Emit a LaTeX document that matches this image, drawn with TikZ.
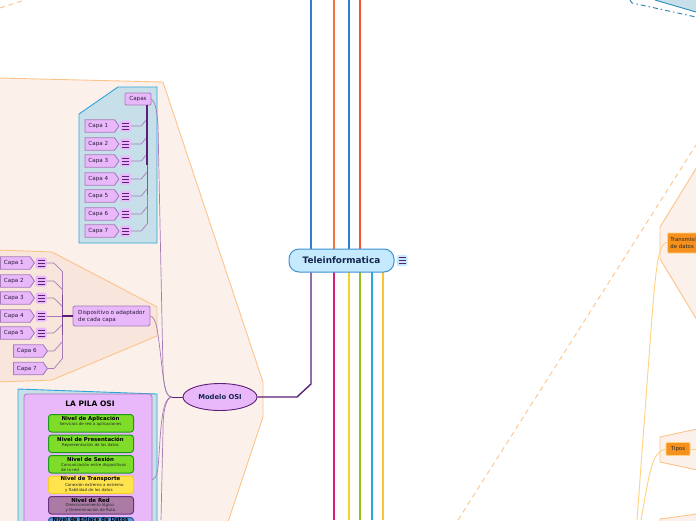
\documentclass[tikz,border=0pt]{standalone}
\usepackage{fontspec}
\setmainfont{DejaVu Sans}
\usetikzlibrary{shapes.symbols,shapes.geometric,calc}
\definecolor{regfill}{HTML}{FCF0EB}
\definecolor{regline}{HTML}{FDC48A}
\definecolor{reginner}{HTML}{F8E5DC}
\definecolor{bluefill}{HTML}{C7DFE9}
\definecolor{blueline}{HTML}{2EA6D8}
\definecolor{purpfill}{HTML}{E9B8FA}
\definecolor{purpline}{HTML}{A57CB8}
\definecolor{purpdark}{HTML}{5C1F78}
\definecolor{textdark}{HTML}{2A1A3A}
\definecolor{orangefill}{HTML}{F7911E}
\definecolor{orangeline}{HTML}{FFD27F}
\definecolor{levgreen}{HTML}{7FDD2A}
\definecolor{levgreenl}{HTML}{1A9A1A}
\definecolor{levyellow}{HTML}{FFE44D}
\definecolor{levyellowl}{HTML}{F5D020}
\definecolor{levpurple}{HTML}{AB7BA6}
\definecolor{levpurplel}{HTML}{6A2F7E}
\definecolor{levblue}{HTML}{5B93D6}
\definecolor{levbluel}{HTML}{2A5A9A}
\definecolor{centralfill}{HTML}{C5E9FD}
\definecolor{centralline}{HTML}{3D92D4}
\definecolor{centraltext}{HTML}{14264F}
\tikzset{
  x=1pt,y=-1pt,
  region/.style={draw=regline,fill=regfill,line width=0.9pt},
  capasig/.style={signal,signal to=east,signal pointer angle=110,draw=purpline,fill=purpfill,line width=0.9pt,
    minimum width=34pt,minimum height=12.5pt,inner sep=0pt,font=\fontsize{5.6}{6}\selectfont,text=textdark,anchor=west},
  menubox/.style={fill=purpfill,rounded corners=1.5pt,minimum width=11pt,minimum height=11pt,inner sep=0pt,
    path picture={\draw[purpdark,line width=0.7pt]
      ($(path picture bounding box.center)+(-3.5pt,-3pt)$) -- ++(7pt,0)
      ($(path picture bounding box.center)+(-3.5pt,0pt)$) -- ++(7pt,0)
      ($(path picture bounding box.center)+(-3.5pt,3pt)$) -- ++(7pt,0);}},
  thinlink/.style={draw=purpline,line width=0.7pt},
  mainlink/.style={line width=1.4pt},
  sublevel/.style={rounded corners=3pt,line width=1pt,minimum width=85pt,minimum height=17.5pt,inner sep=0pt,anchor=north west},
  levtitle/.style={font=\bfseries\fontsize{5.4}{6}\selectfont,inner sep=0pt,text=black},
  levtext/.style={font=\fontsize{4}{4.6}\selectfont,inner sep=0pt,text=black!85,align=left},
}
\begin{document}
\begin{tikzpicture}
\useasboundingbox (0,0) rectangle (696,520);
\fill[white] (0,0) rectangle (696,520);
\begin{scope}
\clip (0,0) rectangle (696,520);
% dashed outer outlines
\draw[regline,line width=0.9pt,dash pattern=on 5pt off 4pt] (0,8) -- (25,0);
\draw[regline,line width=0.9pt,dash pattern=on 5pt off 4pt] (458,520) -- (696,145);
\fill[bluefill] (655,0) -- (696,12) -- (696,0) -- cycle;
\draw[blueline!85!black,line width=0.9pt] (655,0) -- (696,12);
\draw[blueline!80!black,line width=0.9pt,dash pattern=on 5pt off 3pt on 1.5pt off 3pt] (630,0) -- (632,3) -- (696,17);
% regions
\draw[region] (-2,78) -- (163,82) -- (263,382) -- (263,417) -- (228,522) -- (-2,522) -- cycle;
\draw[region,fill=reginner] (-2,250) -- (52,252) -- (157,307) -- (157,336) -- (52,380) -- (-2,382) -- cycle;
\draw[region] (697,167) -- (660,227) -- (660,259) -- (697,320) -- cycle;
\draw[region] (697,429) -- (660,437) -- (660,462) -- (697,470) -- cycle;
\draw[region] (697,514) -- (660,519) -- (660,525) -- (697,525) -- cycle;
% central branches
\foreach \px/\col in {311/2C7FD5,334/F0763C,349/2C7FD5,360/F0552A}{
  \definecolor{tmpc}{HTML}{\col}
  \draw[tmpc,line width=1.4pt] (\px,0) -- (\px,250);}
\foreach \px/\col in {334/D81F7A,349/ECD52A,360/8FC41C,372/2AA7DC,383/FCC232}{
  \definecolor{tmpc}{HTML}{\col}
  \draw[tmpc,line width=1.4pt] (\px,271) -- (\px,520);}
% blue Capas panel
\draw[blueline,fill=bluefill,line width=0.9pt] (79,114) -- (118,87) -- (157,87) -- (157,243) -- (79,243) -- cycle;
% OSI panel
\draw[blueline,fill=bluefill,line width=0.9pt] (18,389) -- (157,394) -- (157,525) -- (18,525) -- cycle;
\draw[purpline,fill=purpfill,line width=0.8pt,rounded corners=3pt] (24,394) -- (152,394) -- (152,525) -- (24,525) -- cycle;
% orange connectors
\draw[orangeline,line width=0.9pt] (667,242) .. controls (658,245) and (656,265) .. (651,330) -- (637,520);
\draw[orangeline,line width=0.9pt] (666,449) .. controls (652,451) and (650,470) .. (641,520);
\draw[orangeline,line width=0.9pt] (690,449) -- (697,449);
% Capas group
\node[draw=purpline,fill=purpfill,line width=0.9pt,rounded corners=1pt,minimum width=26pt,minimum height=12pt,inner sep=0pt,
  font=\fontsize{5.6}{6}\selectfont,text=textdark] (capas) at (138,99) {Capas};
\foreach \i/\py in {1/126,2/144,3/161,4/179,5/196,6/214,7/231}{
  \node[capasig] (a\i) at (84.5,\py) {\hspace{-3pt}Capa \i};
  \node[menubox] (am\i) at (125.5,\py) {};
  \coordinate (aj\i) at (147,{\py-7});
  \draw[thinlink] (am\i.east) -- ++(10,0) -- (aj\i);
}
\draw[purpdark,line width=1.3pt] (147,105) -- (147,165);
\draw[purpdark!75!white,line width=1pt] (147,165) -- (147,195);
\draw[thinlink] (147,195) -- (147,224);
% Dispositivo group
\node[draw=purpline,fill=purpfill,rounded corners=1.5pt,line width=0.9pt,minimum width=77pt,minimum height=20pt,inner sep=0pt,
  font=\fontsize{5.6}{7}\selectfont,text=textdark,align=left] (disp) at (111.5,316) {Dispositivo o adaptador\\de cada capa};
\foreach \i/\py in {1/263,2/281,3/298,5/333}{
  \node[capasig] (b\i) at (0,\py) {\hspace{-3pt}Capa \i};
  \node[menubox] (bm\i) at (41,\py) {};
}
\draw[thinlink] (bm1.east) -- ++(7,0) -- (62,271);
\draw[thinlink] (bm2.east) -- ++(7,0) -- (62,289);
\draw[thinlink] (bm3.east) -- ++(7,0) -- (62,306);
\draw[thinlink] (bm5.east) -- ++(7,0) -- (62,325);
\node[capasig] (b4) at (0,316) {\hspace{-3pt}Capa 4};
\node[menubox] (bm4) at (41,316) {};
\draw[thinlink] (bm4.east) -- (62,316);
\node[capasig] (b6) at (13,351) {\hspace{-3pt}Capa 6};
\node[capasig] (b7) at (13,368.5) {\hspace{-3pt}Capa 7};
\draw[thinlink] (b6.east) -- ++(6,0) -- (62,342);
\draw[thinlink] (b7.east) -- ++(6,0) -- (62,359);
\draw[thinlink] (62,271) -- (62,295);
\draw[purpline!50!purpdark,line width=0.8pt] (62,295) -- (62,335);
\draw[thinlink] (62,335) -- (62,359);
\draw[purpdark,line width=1.3pt] (62,316) -- (disp.west);
% OSI stack
\node[font=\bfseries\fontsize{7.5}{8}\selectfont,text=black,inner sep=0pt] (osititle) at (90,404) {LA PILA OSI};
\node[sublevel,draw=levgreenl,fill=levgreen] (n1) at (48,414) {};
\node[sublevel,draw=levgreenl,fill=levgreen] (n2) at (48,434.5) {};
\node[sublevel,draw=levgreenl,fill=levgreen] (n3) at (48,455) {};
\node[sublevel,draw=levyellowl,fill=levyellow] (n4) at (48,475.5) {};
\node[sublevel,draw=levpurplel,fill=levpurple] (n5) at (48,496) {};
\node[sublevel,draw=levbluel,fill=levblue] (n6) at (48,517) {};
\node[levtitle] at (90.5,418.5) {Nivel de Aplicación};
\node[levtext] at (90.5,424.5) {Servicios de red a aplicaciones};
\node[levtitle] at (90.5,439.5) {Nivel de Presentación};
\node[levtext] at (90.5,445.5) {Representación de los datos};
\node[levtitle] at (90.5,459.5) {Nivel de Sesión};
\node[levtext,anchor=north west] at (61,463) {Comunicación entre dispositivos\\de la red};
\node[levtitle] at (90.5,479.5) {Nivel de Transporte};
\node[levtext,anchor=north west] at (65,483) {Conexión extremo a extremo\\y fiabilidad de los datos};
\node[levtitle] at (90.5,500) {Nivel de Red};
\node[levtext] at (90.5,508) {Direccionamiento lógico\\y Determinación de Ruta};
\node[levtitle] at (90.5,519.5) {Nivel de Enlace de Datos};
% Modelo OSI
\node[ellipse,draw=purpdark,fill=purpfill,line width=0.9pt,minimum width=74pt,minimum height=27pt,inner sep=0pt,
  font=\bfseries\fontsize{6.8}{7}\selectfont,text=centraltext] (modelo) at (220,397) {Modelo OSI};
\coordinate (hub) at (172,397);
\draw[purpdark,line width=1pt] (modelo.west) -- (hub);
\draw[thinlink] (capas.east) .. controls (155,102) and (157,110) .. (158,125) -- (163,370) .. controls (164,390) and (167,397) .. (hub);
\draw[thinlink] (disp.east) .. controls (157,318) and (158,335) .. (160,350) .. controls (164,385) and (165,397) .. (hub);
\draw[thinlink] (152,480) .. controls (158,478) and (158,470) .. (160,440) .. controls (162,410) and (165,397) .. (hub);
\draw[thinlink] (hub) .. controls (166,398) and (163,410) .. (163,430) -- (161,520);
% central
\node[draw=centralline,fill=centralfill,rounded corners=10pt,line width=1pt,minimum width=105pt,minimum height=23pt,inner sep=0pt,
  font=\bfseries\fontsize{8.9}{9}\selectfont,text=centraltext] (central) at (341.5,260.5) {Teleinformatica};
\node[menubox,fill=centralfill] (centralmenu) at (402,260.5) {};
\draw[purpdark,mainlink] (central.south -| 311,0) -- (311,384) -- (297,397) -- (modelo.east);
% orange nodes
\node[fill=orangefill,draw=orangeline,rounded corners=1pt,line width=0.9pt,minimum width=36pt,minimum height=20pt,inner sep=0pt,anchor=west,
  font=\fontsize{5.4}{7}\selectfont,text=black!85,align=left] (trans) at (667,243) {\hspace{2pt}Transmisión\\\hspace{2pt}de datos};
\node[fill=orangefill,draw=orangeline,rounded corners=1pt,line width=0.9pt,minimum width=24pt,minimum height=13pt,inner sep=0pt,
  font=\fontsize{5.4}{6}\selectfont,text=black!85] (tipos) at (678,449) {Tipos};
\end{scope}
\end{tikzpicture}
\end{document}
